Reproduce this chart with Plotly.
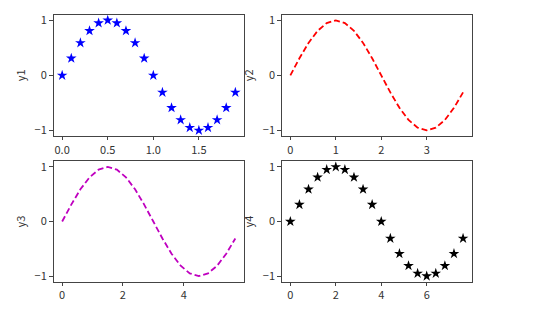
import plotly.graph_objects as go

x1 = [0.0, 0.1, 0.2, 0.3, 0.4, 0.5, 0.6, 0.7, 0.8, 0.9, 1.0, 1.1, 1.2, 1.3, 1.4, 1.5, 1.6, 1.7, 1.8, 1.9]
y1 = [0, 0.31, 0.59, 0.81, 0.95, 1.0, 0.95, 0.81, 0.59, 0.31, 0, -0.31, -0.59, -0.81, -0.95, -1.0, -0.95, -0.81, -0.59, -0.31]
x2 = [0.0, 0.2, 0.4, 0.6, 0.8, 1.0, 1.2, 1.4, 1.6, 1.8, 2.0, 2.2, 2.4, 2.6, 2.8, 3.0, 3.2, 3.4, 3.6, 3.8]
y2 = [0, 0.31, 0.59, 0.81, 0.95, 1.0, 0.95, 0.81, 0.59, 0.31, 0, -0.31, -0.59, -0.81, -0.95, -1.0, -0.95, -0.81, -0.59, -0.31]
x3 = [0.0, 0.3, 0.6, 0.9, 1.2, 1.5, 1.8, 2.1, 2.4, 2.7, 3.0, 3.3, 3.6, 3.9, 4.2, 4.5, 4.8, 5.1, 5.4, 5.7]
y3 = [0, 0.31, 0.59, 0.81, 0.95, 1.0, 0.95, 0.81, 0.59, 0.31, 0, -0.31, -0.59, -0.81, -0.95, -1.0, -0.95, -0.81, -0.59, -0.31]
x4 = [0.0, 0.4, 0.8, 1.2, 1.6, 2.0, 2.4, 2.8, 3.2, 3.6, 4.0, 4.4, 4.8, 5.2, 5.6, 6.0, 6.4, 6.8, 7.2, 7.6]
y4 = [0, 0.31, 0.59, 0.81, 0.95, 1.0, 0.95, 0.81, 0.59, 0.31, 0, -0.31, -0.59, -0.81, -0.95, -1.0, -0.95, -0.81, -0.59, -0.31]

x1_ticks = [0.0, 0.5, 1.0, 1.5]
x1_labels = ["0.0", "0.5", "1.0", "1.5"]
x2_ticks = [0, 1, 2, 3]
x3_ticks = [0, 2, 4]
x4_ticks = [0, 2, 4, 6]
y_ticks = [-1, 0, 1]
y_titles = ["y1", "y2", "y3", "y4"]

W, H = 535, 318
FONT = "Noto Sans CJK SC"

fig = go.Figure()
fig.add_trace(go.Scatter(x=x1, y=y1, mode="markers", xaxis="x", yaxis="y",
                         marker=dict(symbol="star", size=8, color="#0000ff",
                                     line=dict(width=0))))
fig.add_trace(go.Scatter(x=x2, y=y2, mode="lines", xaxis="x2", yaxis="y2",
                         line=dict(color="#ff0000", width=1.8, dash="6px,3px")))
fig.add_trace(go.Scatter(x=x3, y=y3, mode="lines", xaxis="x3", yaxis="y3",
                         line=dict(color="#bf00bf", width=1.8, dash="6px,3px")))
fig.add_trace(go.Scatter(x=x4, y=y4, mode="markers", xaxis="x4", yaxis="y4",
                         marker=dict(symbol="star", size=8, color="#000000",
                                     line=dict(width=0))))

def px_x(a, b):
    return [a / W, b / W]

def px_y(top, bot):
    return [1 - bot / H, 1 - top / H]

common = dict(showline=True, mirror=True, linecolor="#444444", linewidth=1,
              ticks="outside", ticklen=3.5, tickcolor="#444444", tickwidth=1,
              showgrid=False, zeroline=False,
              tickfont=dict(family=FONT, size=11, color="#333333"))

dx_left = px_x(53.5, 244)
dx_right = px_x(281.7, 471.7)
dy_top = px_y(11, 134)
dy_bot = px_y(160, 282)

def yax(domain, anchor, title):
    return dict(domain=domain, anchor=anchor, range=[-1.1, 1.1],
                tickvals=y_ticks, ticktext=["\u22121", "0", "1"],
                title=dict(text=title, standoff=6,
                           font=dict(family=FONT, size=11, color="#333333")),
                **common)

fig.update_layout(
    width=W, height=H,
    margin=dict(l=0, r=0, t=0, b=0),
    paper_bgcolor="white", plot_bgcolor="white",
    showlegend=False,
    xaxis=dict(domain=dx_left, anchor="y", range=[-0.095, 1.995],
               tickvals=x1_ticks, ticktext=x1_labels, **common),
    yaxis=yax(dy_top, "x", y_titles[0]),
    xaxis2=dict(domain=dx_right, anchor="y2", range=[-0.19, 3.99],
                tickvals=x2_ticks, **common),
    yaxis2=yax(dy_top, "x2", y_titles[1]),
    xaxis3=dict(domain=dx_left, anchor="y3", range=[-0.285, 5.985],
                tickvals=x3_ticks, **common),
    yaxis3=yax(dy_bot, "x3", y_titles[2]),
    xaxis4=dict(domain=dx_right, anchor="y4", range=[-0.38, 7.98],
                tickvals=x4_ticks, **common),
    yaxis4=yax(dy_bot, "x4", y_titles[3]),
)

fig.write_html("out.html")
